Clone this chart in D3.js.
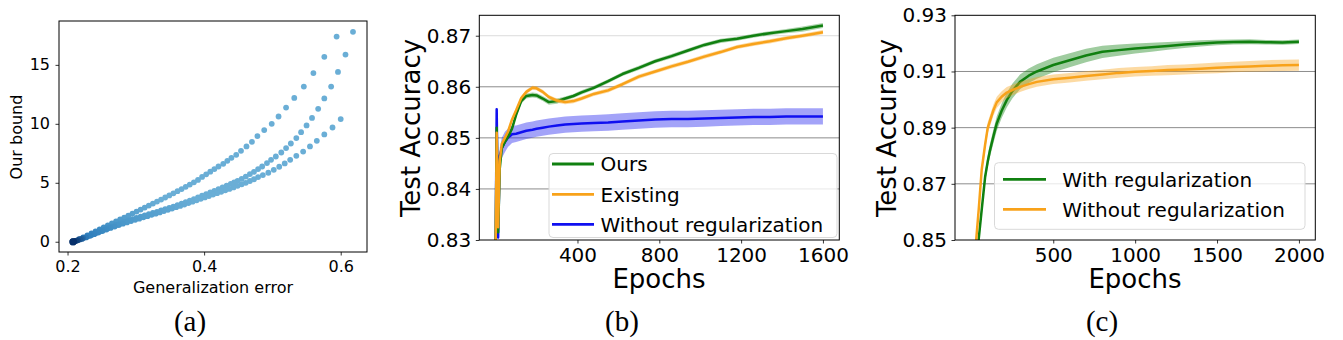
<!DOCTYPE html>
<html>
<head>
<meta charset="utf-8">
<script src="https://cdn.jsdelivr.net/npm/d3@7"></script>
<style>
body { margin: 0; background: #fff; }
svg { display: block; }
.axis text { font-family: "DejaVu Sans", sans-serif; fill: #000; }
.axis path { display: none; }
.axis line { stroke: #000; stroke-width: 0.8; }
</style>
</head>
<body>
<svg id="fig" width="1343" height="340"></svg>
<script>
// (a) 散布図のデータ: [汎化誤差, bound]
var curveA = [[0.208,0],[0.212,0.08],[0.217,0.21],[0.223,0.37],[0.229,0.53],[0.235,0.70],[0.241,0.87],[0.247,1.04],[0.253,1.21],[0.259,1.38],[0.265,1.55],[0.271,1.72],[0.277,1.89],[0.283,2.05],[0.289,2.22],[0.295,2.39],[0.301,2.56],[0.307,2.73],[0.313,2.90],[0.319,3.07],[0.325,3.24],[0.331,3.41],[0.337,3.58],[0.343,3.75],[0.349,3.93],[0.355,4.11],[0.361,4.29],[0.367,4.47],[0.373,4.66],[0.379,4.85],[0.385,5.04],[0.391,5.24],[0.397,5.50],[0.403,5.72],[0.409,5.94],[0.415,6.16],[0.421,6.38],[0.428,6.61],[0.434,6.86],[0.440,7.12],[0.447,7.37],[0.454,7.71],[0.462,8.08],[0.470,8.47],[0.478,8.96],[0.488,9.47],[0.499,10.0],[0.509,10.62],[0.520,11.38],[0.532,12.2],[0.546,13.16],[0.560,14.3],[0.576,15.68],[0.594,17.4]];
var curveB = [[0.208,0],[0.213,0.10],[0.218,0.20],[0.223,0.31],[0.229,0.44],[0.235,0.58],[0.241,0.72],[0.247,0.87],[0.253,1.01],[0.259,1.15],[0.265,1.29],[0.271,1.42],[0.277,1.55],[0.283,1.68],[0.289,1.80],[0.295,1.91],[0.301,2.02],[0.307,2.12],[0.313,2.23],[0.319,2.33],[0.325,2.44],[0.331,2.54],[0.337,2.65],[0.343,2.76],[0.349,2.87],[0.355,2.98],[0.361,3.10],[0.367,3.22],[0.373,3.35],[0.379,3.48],[0.385,3.62],[0.391,3.76],[0.397,3.90],[0.403,4.04],[0.409,4.18],[0.415,4.32],[0.421,4.46],[0.427,4.60],[0.433,4.75],[0.439,4.90],[0.444,5.03],[0.449,5.17],[0.455,5.33],[0.461,5.53],[0.467,5.74],[0.473,5.93],[0.479,6.16],[0.485,6.38],[0.492,6.67],[0.498,6.95],[0.505,7.23],[0.513,7.57],[0.520,7.94],[0.527,8.33],[0.535,8.79],[0.542,9.29],[0.550,9.86],[0.558,10.5],[0.567,11.27],[0.576,12.15],[0.586,13.16],[0.596,14.4],[0.607,15.87],[0.618,17.8]];
var curveC = [[0.210,0.03],[0.215,0.12],[0.221,0.24],[0.227,0.37],[0.233,0.50],[0.239,0.64],[0.245,0.78],[0.251,0.91],[0.257,1.04],[0.263,1.17],[0.269,1.29],[0.275,1.41],[0.281,1.53],[0.287,1.64],[0.293,1.75],[0.299,1.86],[0.305,1.96],[0.311,2.07],[0.317,2.17],[0.323,2.28],[0.329,2.38],[0.335,2.49],[0.341,2.60],[0.347,2.71],[0.353,2.82],[0.359,2.93],[0.365,3.04],[0.371,3.16],[0.377,3.28],[0.383,3.40],[0.389,3.52],[0.395,3.64],[0.401,3.76],[0.407,3.88],[0.413,4.00],[0.419,4.12],[0.425,4.24],[0.431,4.36],[0.437,4.48],[0.443,4.61],[0.449,4.74],[0.455,4.87],[0.461,5.00],[0.467,5.15],[0.473,5.30],[0.479,5.48],[0.486,5.65],[0.494,5.85],[0.502,6.10],[0.510,6.36],[0.518,6.64],[0.526,6.95],[0.535,7.29],[0.545,7.65],[0.555,8.08],[0.565,8.56],[0.576,9.10],[0.588,9.69],[0.600,10.4]];
var aTicksX = [0.2, 0.4, 0.6];
var aTicksY = [0, 5, 10, 15];

// (b) Test Accuracy の推移
var bEpochs = [0,5,12,20,30,45,60,80,100,125,150,180,200,230,260,300,340,380,420,480,550,620,700,780,860,940,1020,1100,1180,1260,1340,1420,1500,1600];
var bOurs = [0.829,0.852,0.8315,0.844,0.848,0.8492,0.8502,0.8518,0.8545,0.8572,0.8582,0.8584,0.8583,0.8577,0.857,0.8572,0.8577,0.8582,0.8589,0.8598,0.8611,0.8625,0.8637,0.865,0.866,0.8671,0.8682,0.869,0.8694,0.87,0.8705,0.8709,0.8713,0.872];
var bExisting = [0.829,0.851,0.8325,0.8455,0.8488,0.85,0.8512,0.8536,0.8554,0.8578,0.859,0.8598,0.8597,0.859,0.858,0.8573,0.857,0.8572,0.8577,0.8586,0.8593,0.8605,0.862,0.863,0.864,0.8649,0.8659,0.8668,0.8678,0.8684,0.8689,0.8695,0.87,0.8707];
var bWithout = [0.829,0.8556,0.8305,0.8465,0.848,0.8492,0.85,0.8507,0.8508,0.8511,0.8514,0.8516,0.8518,0.852,0.8522,0.8524,0.8526,0.8527,0.8528,0.8529,0.853,0.8532,0.8534,0.8536,0.8537,0.8537,0.8538,0.8539,0.854,0.8541,0.8541,0.8542,0.8542,0.8542];
var bOursSd = [0,0.0004,0.0004,0.0004,0.0005,0.0005,0.0005,0.0005,0.0005,0.0005,0.0005,0.0005,0.0005,0.0005,0.0005,0.0005,0.0004,0.0004,0.0004,0.0004,0.0004,0.0004,0.0004,0.0004,0.0004,0.0004,0.0004,0.0004,0.0004,0.0004,0.0004,0.0004,0.0005,0.0005];
var bExistingSd = [0,0.0004,0.0004,0.0004,0.0004,0.0004,0.0004,0.0004,0.0004,0.0004,0.0004,0.0004,0.0004,0.0004,0.0004,0.0004,0.0004,0.0004,0.0004,0.0004,0.0004,0.0004,0.0004,0.0004,0.0004,0.0004,0.0004,0.0004,0.0004,0.0004,0.0004,0.0004,0.0004,0.0004];
var bWithoutSd = [0,0.0008,0.0008,0.0015,0.002,0.002,0.0018,0.0017,0.0016,0.0016,0.0016,0.0016,0.0016,0.0016,0.0016,0.0016,0.0016,0.0016,0.0016,0.0016,0.0016,0.0016,0.0016,0.0016,0.0016,0.0016,0.0016,0.0016,0.0016,0.0016,0.0016,0.0016,0.0016,0.0016];
var bTicksX = [400, 800, 1200, 1600];
var bTicksY = [0.83, 0.84, 0.85, 0.86, 0.87];

// (c) 正則化あり / なし
var cEpochs = [20,30,45,63,84,100,114,135,155,185,216,250,297,350,400,500,600,700,800,900,1000,1100,1200,1300,1400,1500,1600,1700,1800,1900,2000];
var cWith = [0.82,0.835,0.8505,0.8607,0.8725,0.878,0.882,0.887,0.8915,0.896,0.8998,0.903,0.9063,0.9085,0.91,0.9123,0.914,0.9157,0.917,0.9176,0.9182,0.9186,0.9191,0.9196,0.92,0.9203,0.9205,0.9206,0.9204,0.9203,0.9206];
var cWithout = [0.835,0.8505,0.861,0.875,0.884,0.89,0.8925,0.8963,0.899,0.901,0.9025,0.9034,0.9045,0.9055,0.9063,0.9072,0.9078,0.9084,0.9089,0.9095,0.9099,0.9102,0.9105,0.9107,0.911,0.9113,0.9116,0.9118,0.912,0.9122,0.9123];
var cWithSd = [0.002,0.002,0.002,0.002,0.002,0.0022,0.0024,0.0025,0.0026,0.0026,0.0026,0.0026,0.0026,0.0026,0.0026,0.0026,0.0025,0.0024,0.0022,0.002,0.0018,0.0016,0.0014,0.0012,0.0011,0.001,0.0009,0.0009,0.0008,0.0008,0.0008];
var cWithoutSd = [0.0015,0.0015,0.0016,0.0018,0.002,0.002,0.002,0.002,0.002,0.002,0.002,0.0019,0.0018,0.0017,0.0017,0.0017,0.0017,0.0017,0.0017,0.0017,0.0017,0.0017,0.0018,0.0018,0.0018,0.0019,0.0019,0.0019,0.002,0.002,0.002];
var cTicksX = [500, 1000, 1500, 2000];
var cTicksY = [0.85, 0.87, 0.89, 0.91, 0.93];

var svg = d3.select("#fig");
svg.append("rect").attr("width", 1343).attr("height", 340).attr("fill", "#fff");

// 軸を描く共通関数
function drawAxes(x, y, xt, yt, xfmt, yfmt, fs, pad){
    svg.append("g")
    .attr("class", "axis")
    .attr("transform", "translate(0," + y.range()[0] + ")")
    .call(d3.axisBottom(x).tickValues(xt).tickFormat(xfmt).tickSize(3.5).tickPadding(pad).tickSizeOuter(0))
    .selectAll("text").style("font-size", fs + "px");

    svg.append("g")
    .attr("class", "axis")
    .attr("transform", "translate(" + x.range()[0] + ",0)")
    .call(d3.axisLeft(y).tickValues(yt).tickFormat(yfmt).tickSize(3.5).tickPadding(pad).tickSizeOuter(0))
    .selectAll("text").style("font-size", fs + "px");

    svg.append("rect")
    .attr("x", x.range()[0]).attr("y", y.range()[1])
    .attr("width", x.range()[1] - x.range()[0])
    .attr("height", y.range()[0] - y.range()[1])
    .attr("fill", "none").attr("stroke", "#000").attr("stroke-width", 1);
}

function label(text, x, y, size, rotate, family){
    var t = svg.append("text")
    .attr("x", x).attr("y", y)
    .attr("text-anchor", "middle")
    .style("font-family", family || "'DejaVu Sans', sans-serif")
    .style("font-size", size + "px")
    .text(text);
    if (rotate) t.attr("transform", "rotate(-90," + x + "," + y + ")");
}

// ---------- (a) ----------
var xA = d3.scaleLinear().domain([0.1875, 0.6385]).range([59, 367]);
var yA = d3.scaleLinear().domain([-0.87, 18.72]).range([252, 21]);
var dotColor = d3.scaleLinear()
    .domain([0, 0.4, 1.5, 3.5])
    .range(["#08306b", "#2f7ebc", "#4a97ca", "#6aaed6"])
    .clamp(true);

var pts = curveA.concat(curveB, curveC).sort(function(p, q){ return q[1] - p[1]; });
svg.append("g").selectAll("circle")
    .data(pts).enter().append("circle")
    .attr("cx", function(d){ return xA(d[0]); })
    .attr("cy", function(d){ return yA(d[1]); })
    .attr("r", function(d){ return d[1] === 0 ? 3.6 : 2.9; })
    .attr("fill", function(d){ return dotColor(d[1]); });

drawAxes(xA, yA, aTicksX, aTicksY, d3.format(".1f"), d3.format("d"), 16, 5.5);
label("Generalization error", 213, 293, 16);
label("Our bound", 22, 137, 16, true);
label("(a)", 190, 331, 29, false, "'Liberation Serif', serif");

// ---------- 折れ線 + 帯 ----------
function drawSeries(x, y, clipId, epochs, vals, sd, color, fillColor){
    var rows = epochs.map(function(e, i){ return {e: e, v: vals[i], s: sd[i]}; });
    var area = d3.area()
        .x(function(d){ return x(d.e); })
        .y0(function(d){ return y(d.v - d.s); })
        .y1(function(d){ return y(d.v + d.s); });
    var line = d3.line()
        .x(function(d){ return x(d.e); })
        .y(function(d){ return y(d.v); });
    var g = svg.append("g").attr("clip-path", "url(#" + clipId + ")");
    g.append("path").attr("d", area(rows)).attr("fill", fillColor).attr("stroke", "none");
    g.append("path").attr("d", line(rows)).attr("fill", "none")
        .attr("stroke", color).attr("stroke-width", 2.5).attr("stroke-linejoin", "round");
}

function clip(id, x, y){
    svg.append("clipPath").attr("id", id).append("rect")
    .attr("x", x.range()[0]).attr("y", y.range()[1])
    .attr("width", x.range()[1] - x.range()[0])
    .attr("height", y.range()[0] - y.range()[1]);
}

function grid(x, y, vals, colorFn){
    svg.append("g").selectAll("line").data(vals).enter().append("line")
    .attr("x1", x.range()[0]).attr("x2", x.range()[1])
    .attr("y1", function(d){ return y(d); }).attr("y2", function(d){ return y(d); })
    .attr("stroke", colorFn).attr("stroke-width", 1);
}

function legend(x0, y0, w, h, items, hx0, hx1, tx, ys){
    svg.append("rect")
    .attr("x", x0).attr("y", y0).attr("width", w).attr("height", h)
    .attr("rx", 4).attr("fill", "#fff").attr("fill-opacity", 0.8)
    .attr("stroke", "#d9d9d9").attr("stroke-width", 1);
    items.forEach(function(it, i){
        svg.append("line").attr("x1", hx0).attr("x2", hx1)
        .attr("y1", ys[i]).attr("y2", ys[i])
        .attr("stroke", it.color).attr("stroke-width", 2.8);
        svg.append("text").attr("x", tx).attr("y", ys[i]).attr("dy", "0.36em")
        .style("font-family", "'DejaVu Sans', sans-serif").style("font-size", "20px")
        .text(it.name);
    });
}

// ---------- (b) ----------
var xB = d3.scaleLinear().domain([-80, 1680]).range([479.3, 839.3]);
var yB = d3.scaleLinear().domain([0.83, 0.874]).range([240, 15.3]);
clip("clipB", xB, yB);
grid(xB, yB, bTicksY.slice(1), function(d){ return d > 0.865 ? "#dcdcdc" : "#8c8c8c"; });
drawSeries(xB, yB, "clipB", bEpochs, bWithout, bWithoutSd, "#1010f0", "rgba(50,50,240,0.45)");
drawSeries(xB, yB, "clipB", bEpochs, bOurs, bOursSd, "#108010", "rgba(16,128,16,0.35)");
drawSeries(xB, yB, "clipB", bEpochs, bExisting, bExistingSd, "#f8a21a", "rgba(248,162,26,0.4)");
drawAxes(xB, yB, bTicksX, bTicksY, d3.format("d"), d3.format(".2f"), 20, 4.5);
legend(549, 153.5, 288, 84,
    [{name: "Ours", color: "#108010"}, {name: "Existing", color: "#f8a21a"}, {name: "Without regularization", color: "#1010f0"}],
    552, 594, 600.5, [164, 194.3, 224.3]);
label("Test Accuracy", 420, 128, 26, true);
label("Epochs", 659, 288, 26);
label("(b)", 622, 331, 29, false, "'Liberation Serif', serif");

// ---------- (c) ----------
var xC = d3.scaleLinear().domain([-100, 2100]).range([955, 1315.3]);
var yC = d3.scaleLinear().domain([0.85, 0.93]).range([240, 15.3]);
clip("clipC", xC, yC);
grid(xC, yC, [0.87, 0.89, 0.91], function(){ return "#8c8c8c"; });
drawSeries(xC, yC, "clipC", cEpochs, cWith, cWithSd, "#108010", "rgba(16,128,16,0.4)");
drawSeries(xC, yC, "clipC", cEpochs, cWithout, cWithoutSd, "#f8a21a", "rgba(248,162,26,0.4)");
drawAxes(xC, yC, cTicksX, cTicksY, d3.format("d"), d3.format(".2f"), 20, 4.5);
legend(994.5, 162.7, 310.5, 66.6,
    [{name: "With regularization", color: "#108010"}, {name: "Without regularization", color: "#f8a21a"}],
    1003, 1046, 1062.3, [179.3, 209.3]);
label("Test Accuracy", 896, 128, 26, true);
label("Epochs", 1135, 288, 26);
label("(c)", 1102, 331, 29, false, "'Liberation Serif', serif");
</script>
</body>
</html>
